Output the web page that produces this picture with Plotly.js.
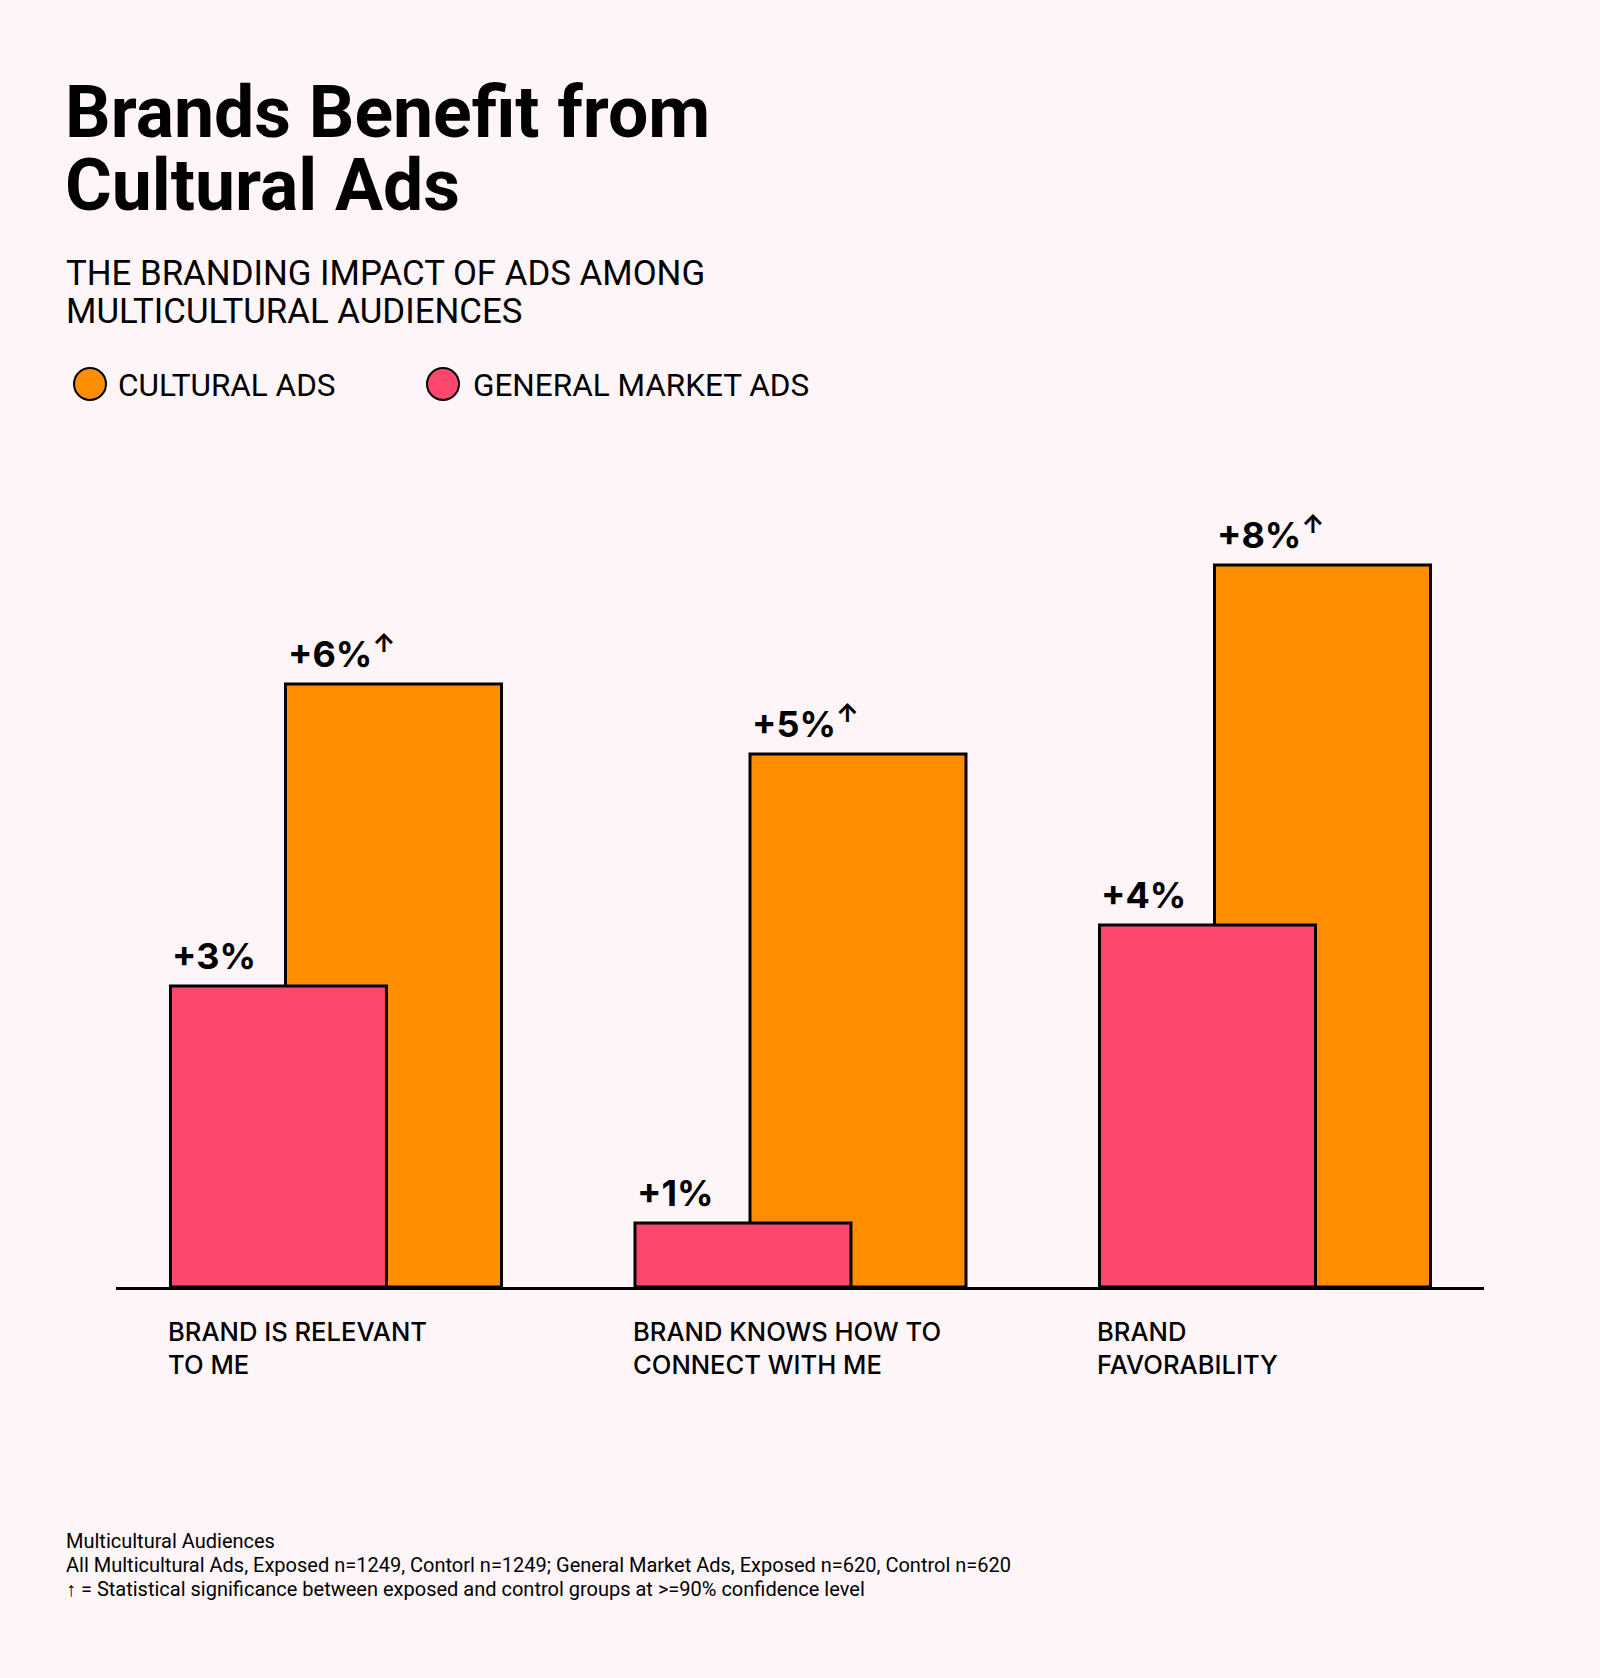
<!DOCTYPE html>
<html>
<head>
<meta charset="utf-8">
<script src="https://cdn.plot.ly/plotly-3.0.1.min.js"></script>
<style>
html,body{margin:0;padding:0;background:#FEF5F8;}
#chart{width:1600px;height:1678px;}
</style>
</head>
<body>
<div id="chart"></div>
<script>
// ---- data ----
const categories = ["BRAND IS RELEVANT<br>TO ME", "BRAND KNOWS HOW TO<br>CONNECT WITH ME", "BRAND<br>FAVORABILITY"];
const seriesNames = ["CULTURAL ADS", "GENERAL MARKET ADS"];
const culturalValues = [6.03, 5.33, 7.22];
const generalValues = [3.01, 0.64, 3.62];
const culturalLabels = ["+6%", "+5%", "+8%"];
const generalLabels = ["+3%", "+1%", "+4%"];
const culturalSignificant = [true, true, true];
const generalSignificant = [false, false, false];
const titleLines = ["Brands Benefit from", "Cultural Ads"];
const subtitleLines = ["THE BRANDING IMPACT OF ADS AMONG", "MULTICULTURAL AUDIENCES"];
const footnoteLines = [
  "Multicultural Audiences",
  "All Multicultural Ads, Exposed n=1249, Contorl n=1249; General Market Ads, Exposed n=620, Control n=620",
  "\u2191 = Statistical significance between exposed and control groups at >=90% confidence level"
];

// ---- styling / layout ----
const W = 1600, H = 1678;
const mL = 116, mR = 116, mT = 487, mB = 391;
const plotW = W - mL - mR, plotH = H - mT - mB;
const px2paperX = px => (px - mL) / plotW;
const px2paperY = py => (H - mB - py) / plotH;

const ORANGE = "#FF8E00", PINK = "#FE476C", BG = "#FEF5F8";
const barWidth = 0.465;
const pinkOffset = -0.3563, orangeOffset = -0.1087;
const xIdx = categories.map((_, i) => i);

const traces = [
  {
    type: "bar", name: seriesNames[0], x: xIdx, y: culturalValues,
    width: barWidth, offset: orangeOffset,
    marker: {color: ORANGE, line: {color: "#000", width: 3}},
    showlegend: false, hoverinfo: "skip"
  },
  {
    type: "bar", name: seriesNames[1], x: xIdx, y: generalValues,
    width: barWidth, offset: pinkOffset,
    marker: {color: PINK, line: {color: "#000", width: 3}},
    showlegend: false, hoverinfo: "skip"
  }
];

const arrow = '<sup>\u2191</sup>';
const annotations = [];
const labelFont = {family: "Inter, 'Open Sans', sans-serif", size: 36, color: "#000", weight: 700};

function addBarLabels(vals, labels, sig, offset) {
  vals.forEach((v, i) => {
    annotations.push({
      xref: "x", yref: "y", x: i + offset, y: v,
      xanchor: "left", yanchor: "bottom", xshift: 0, yshift: 6,
      text: labels[i] + (sig[i] ? arrow : ""),
      showarrow: false, font: labelFont, align: "left"
    });
  });
}
addBarLabels(culturalValues, culturalLabels, culturalSignificant, orangeOffset);
addBarLabels(generalValues, generalLabels, generalSignificant, pinkOffset);

// category labels (left aligned under pink bar)
categories.forEach((c, i) => {
  annotations.push({
    xref: "x", yref: "y", x: i + pinkOffset, y: 0,
    xanchor: "left", yanchor: "middle", xshift: -4, yshift: -61,
    text: c, showarrow: false, align: "left",
    font: {family: "Inter, Roboto, sans-serif", size: 25.6, color: "#000", weight: 500}
  });
});

// title (two lines, tight leading)
const titleFont = {family: "Roboto, 'Liberation Sans', sans-serif", size: 71.5, color: "#000", weight: 700};
[112, 185].forEach((cy, k) => {
  annotations.push({
    xref: "paper", yref: "paper", x: px2paperX(63), y: px2paperY(cy),
    xanchor: "left", yanchor: "middle", valign: "middle", height: 66,
    text: titleLines[k], showarrow: false,
    font: titleFont
  });
});
// subtitle
[273, 311].forEach((cy, k) => {
  annotations.push({
    xref: "paper", yref: "paper", x: px2paperX(64), y: px2paperY(cy),
    xanchor: "left", yanchor: "middle", valign: "middle", height: 34,
    text: subtitleLines[k], showarrow: false,
    font: {family: "Roboto, sans-serif", size: 34.8, color: "#000", weight: 400}
  });
});
// legend
const legendPos = [{cx: 90, tx: 116}, {cx: 443, tx: 471}];
const legendColors = [ORANGE, PINK];
const shapes = [];
legendPos.forEach((p, k) => {
  shapes.push({
    type: "circle", xref: "paper", yref: "paper",
    xsizemode: "pixel", ysizemode: "pixel",
    xanchor: px2paperX(p.cx), yanchor: px2paperY(384),
    x0: -16, x1: 16, y0: -16, y1: 16,
    fillcolor: legendColors[k], line: {color: "#000", width: 2}
  });
  annotations.push({
    xref: "paper", yref: "paper", x: px2paperX(p.tx), y: px2paperY(385),
    xanchor: "left", yanchor: "middle", text: seriesNames[k], showarrow: false,
    font: {family: "Roboto, sans-serif", size: 31.5, color: "#000", weight: 400}
  });
});
// footnotes
[1541, 1565, 1589].forEach((cy, k) => {
  annotations.push({
    xref: "paper", yref: "paper", x: px2paperX(64), y: px2paperY(cy),
    xanchor: "left", yanchor: "middle", valign: "middle", height: 22,
    text: footnoteLines[k], showarrow: false,
    font: {family: "Roboto, sans-serif", size: 20, color: "#000", weight: 400}
  });
});

const layout = {
  width: W, height: H,
  margin: {l: mL, r: mR, t: mT, b: mB, pad: 0},
  paper_bgcolor: BG, plot_bgcolor: BG,
  barmode: "overlay",
  showlegend: false,
  xaxis: {
    range: [-0.4736, 2.4715], showgrid: false, zeroline: false,
    showticklabels: false, ticks: "", showline: true, linecolor: "#000", linewidth: 3,
    fixedrange: true
  },
  yaxis: {range: [0, 8], visible: false, fixedrange: true},
  annotations: annotations,
  shapes: shapes,
  hovermode: false
};

Plotly.newPlot("chart", traces, layout, {displayModeBar: false, staticPlot: true});
</script>
</body>
</html>
